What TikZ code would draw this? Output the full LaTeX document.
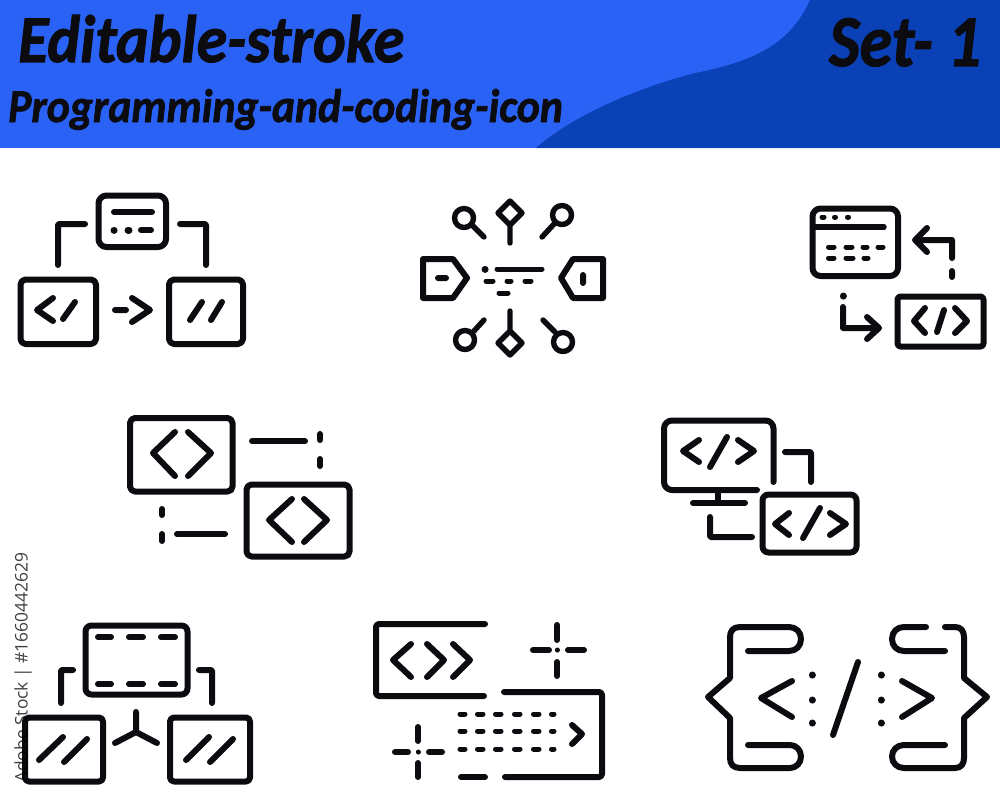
\documentclass[tikz,border=0pt]{standalone}
\usepackage{fontspec}
\setmainfont{Carlito}[BoldItalicFeatures={FakeBold=1.6}]
\newfontfamily\stampfont{Open Sans}
\definecolor{bannerblue}{HTML}{2962F5}
\definecolor{bannerdark}{HTML}{0A41B7}
\definecolor{inkblack}{HTML}{0B0B10}
\tikzset{
  icon/.style={draw=inkblack, line width=6pt, line cap=round, line join=round},
  thinicon/.style={icon, line width=5.4pt},
  dashrow/.style={icon, line width=5pt},
  dotmark/.style={icon, line width=7pt},
  headline/.style={anchor=base west, inkblack, inner sep=0pt, transform shape}
}
\begin{document}
\begin{tikzpicture}[x=1pt, y=-1pt]
  \useasboundingbox (0,0) rectangle (1000,800);
  \fill[white] (0,0) rectangle (1000,800);
  \fill[bannerblue] (0,0) rectangle (1000,148);
  \fill[bannerdark] (810,0) .. controls (790,45) and (752,62) .. (695,73) .. controls (630,90) and (570,118) .. (536,148) -- (1000,148) -- (1000,0) -- cycle;
  \node[headline, xscale=0.925, font=\fontsize{67}{67}\selectfont\bfseries\itshape] (titleline) at (18,62) {Editable-stroke};
  \node[headline, xscale=0.93, font=\fontsize{47}{47}\selectfont\bfseries\itshape] (subtitle) at (8,122) {Programming-and-coding-icon};
  \node[headline, xscale=0.9, font=\fontsize{73}{73}\selectfont\bfseries\itshape] (setlabel) at (829,66) {Set- 1};

  \draw[icon, rounded corners=8pt] (98.5,195.5) rectangle (166,247);
  \draw[icon] (114,212) -- (152,212) (141,230) -- (151,230);
  \draw[dotmark] (114,230) -- (114.1,230) (128,230) -- (129,230);
  \draw[icon, rounded corners=1pt] (85,224) -- (58,224) -- (58,265);
  \draw[icon, rounded corners=1pt] (180,224) -- (206,224) -- (206,265);
  \draw[icon, rounded corners=5pt] (20.5,279.5) rectangle (96,344);
  \draw[icon, rounded corners=5pt] (169,279.5) rectangle (243,344);
  \draw[icon] (53,298) -- (37,310) -- (53,321) (75,302) -- (63,319);
  \draw[icon] (115,310) -- (126,310) (132,298) -- (150,310) -- (132,322);
  \draw[icon] (202,302) -- (190,320) (222,302) -- (211,320);

  \draw[thinicon] (464,218) circle (9.5) (473,226) -- (484,237);
  \draw[thinicon] (510,201) -- (522,213) -- (510,225) -- (498,213) -- cycle (510,225) -- (510,243);
  \draw[thinicon] (562,215) circle (9.5) (554,224) -- (542,237);
  \draw[thinicon] (465,340) circle (9.5) (474,331) -- (484,320);
  \draw[thinicon] (510,331) -- (522,343) -- (510,355) -- (498,343) -- cycle (510,331) -- (510,311);
  \draw[thinicon] (563,342) circle (9.5) (555,332) -- (543,320);
  \draw[icon] (423,259) -- (453,259) -- (467,278) -- (453,298) -- (423,298) -- cycle (438,278) -- (446,278);
  \draw[icon] (603,259) -- (573,259) -- (561,278) -- (573,298) -- (603,298) -- cycle (583,275) -- (583,283);
  \draw[dashrow] (497,269) -- (542,269) (486,281) -- (493,281) (507,281) -- (511,281) (525,281) -- (531,281) (499,293) -- (508,293);
  \draw[dotmark] (485,269) -- (485.1,269);

  \draw[icon, rounded corners=8pt] (812.5,208.5) rectangle (898,276);
  \draw[thinicon] (812.5,227) -- (884,227);
  \draw[dashrow] (822,217) -- (824,217) (834.5,217) -- (835.5,217) (847.5,217) -- (848.5,217);
  \draw[dashrow] (828.5,247) -- (834,247) (846,247) -- (852,247) (863,247) -- (867,247) (878,247) -- (883,247);
  \draw[dashrow] (828.5,258) -- (834,258) (846,258) -- (853,258) (864,258) -- (868,258);
  \draw[icon] (927,228) -- (915,240) -- (927,252) (915,240) -- (952,240) -- (952,258) (952,271) -- (952,277);
  \draw[dotmark] (843,296) -- (843,296.1);
  \draw[icon] (843,307) -- (843,328) -- (879,328) (867,317) -- (879,328) -- (867,339);
  \draw[icon, rounded corners=3pt] (897.5,296.5) rectangle (983.5,346.5);
  \draw[icon] (925,308) -- (914,321) -- (925,333) (944,310) -- (937,332) (955,308) -- (967,321) -- (955,333);

  \draw[icon, rounded corners=5pt] (130,418) rectangle (232.5,491.5);
  \draw[icon] (175,432) -- (153,453) -- (175,476) (188,432) -- (211,453) -- (188,476);
  \draw[icon] (252,441) -- (305,441) (320,434) -- (320,440) (320,459) -- (320,466);
  \draw[icon, rounded corners=5pt] (246.5,484.5) rectangle (349.5,556.5);
  \draw[icon] (292,499) -- (269,520) -- (292,542) (304,499) -- (327,520) -- (304,542);
  \draw[icon] (162,509) -- (162,515) (162,534) -- (162,541) (177,534) -- (225,534);

  \draw[icon, rounded corners=8pt] (773.5,482) -- (773.5,420.5) -- (664,420.5) -- (664,490) -- (757,490);
  \draw[icon] (718,492) -- (718,503) (693,503) -- (745,503);
  \draw[icon] (699,440) -- (683,451) -- (699,462) (727,437) -- (710,467) (738,440) -- (754,451) -- (738,462);
  \draw[icon, rounded corners=1pt] (785,452) -- (811,452) -- (811,482);
  \draw[icon, rounded corners=1pt] (710,517) -- (710,537) -- (752,537);
  \draw[icon, rounded corners=6pt] (762.5,494.5) rectangle (856.5,552.5);
  \draw[icon] (789,513) -- (775,524) -- (789,535) (820,508) -- (803,538) (830,513) -- (846,524) -- (830,535);

  \draw[icon, rounded corners=6pt] (85.5,625.5) rectangle (187.5,694.5);
  \draw[icon] (98,637) -- (111,637) (129,637) -- (143,637) (161,637) -- (175,637);
  \draw[icon] (98,684) -- (111,684) (129,684) -- (143,684) (161,684) -- (175,684);
  \draw[icon, rounded corners=1pt] (73,670) -- (61,670) -- (61,703);
  \draw[icon, rounded corners=1pt] (199,670) -- (212,670) -- (212,703);
  \draw[icon, rounded corners=4pt] (25,717.5) rectangle (103,781.5);
  \draw[icon, rounded corners=4pt] (170,717.5) rectangle (250,781.5);
  \draw[icon] (63,737) -- (39,760) (87,739) -- (64,762);
  \draw[icon] (209,737) -- (186,760) (233,739) -- (210,762);
  \draw[icon] (136,712) -- (136,732) (115,743) -- (136,732) -- (157,743);
  \node[anchor=west, rotate=90, inner sep=0pt, text=black, opacity=0.75, font=\stampfont\fontsize{17.4}{17.4}\selectfont] (stocklabel) at (23,783) {Adobe Stock | \#1660442629};

  \draw[icon, rounded corners=3pt] (485,624) -- (376,624) -- (376,696) -- (484,696);
  \draw[icon] (411,644) -- (393,660) -- (411,677) (427,644) -- (444,660) -- (427,677) (453,644) -- (470,660) -- (453,677);
  \draw[icon] (557,625) -- (557,640) (557,662) -- (557,676) (533,650) -- (549,650) (568,650) -- (584,650);
  \draw[dotmark, line width=5pt] (557,650) -- (557,650.1);
  \draw[icon] (418,727) -- (418,741) (418,763) -- (418,777) (395,752) -- (408,752) (429,752) -- (442,752);
  \draw[dotmark, line width=5pt] (418,752) -- (418,752.1);
  \draw[icon, rounded corners=3pt] (504,692) -- (602,692) -- (602,777) -- (505,777);
  \draw[icon] (461,777) -- (485,777);
  \draw[dashrow] (460,714) -- (465,714) (477.5,714) -- (483,714) (495.5,714) -- (501,714) (514.5,714) -- (520,714) (533.5,714) -- (539,714) (551.5,714) -- (554,714);
  \draw[dashrow] (460,731) -- (465,731) (477.5,731) -- (483,731) (495.5,731) -- (501,731) (514.5,731) -- (520,731) (533.5,731) -- (539,731) (551.5,731) -- (554,731);
  \draw[dashrow] (460,749) -- (465,749) (477.5,749) -- (483,749) (495.5,749) -- (501,749) (514.5,749) -- (520,749) (533.5,749) -- (539,749) (551.5,749) -- (554,749);
  \draw[icon] (572,725) -- (582,734) -- (572,744);

  \draw[icon] (748,651) -- (789,651) .. controls (796,651) and (801,646) .. (801,639) .. controls (801,632) and (796,627) .. (789,627) -- (740,627) .. controls (733,627) and (730,631) .. (730,637) -- (730,678) -- (708,697) -- (730,718) -- (730,758) .. controls (730,764) and (733,768) .. (740,768) -- (790,768) .. controls (796,768) and (801,763) .. (801,756.5) .. controls (801,750) and (796,745) .. (790,745) -- (748,745);
  \draw[icon] (945,651) -- (904,651) .. controls (897,651) and (892,646) .. (892,639) .. controls (892,632) and (897,627) .. (904,627) -- (926,627) (945,627) -- (955,627) .. controls (961,627) and (964,631) .. (964,637) -- (964,678) -- (987,697) -- (964,718) -- (964,758) .. controls (964,764) and (961,768) .. (955,768) -- (904,768) .. controls (897,768) and (892,763) .. (892,756.5) .. controls (892,750) and (897,745) .. (904,745) -- (945,745);
  \draw[icon] (792,681) -- (761,698) -- (792,717) (902,681) -- (932,698) -- (902,717);
  \draw[icon] (858,662) -- (833,735);
  \draw[dotmark] (812,675) -- (812,675.1) (812,700) -- (812,700.1) (812,723) -- (812,723.1) (881,675) -- (881,675.1) (881,700) -- (881,700.1) (881,723) -- (881,723.1);
\end{tikzpicture}
\end{document}
